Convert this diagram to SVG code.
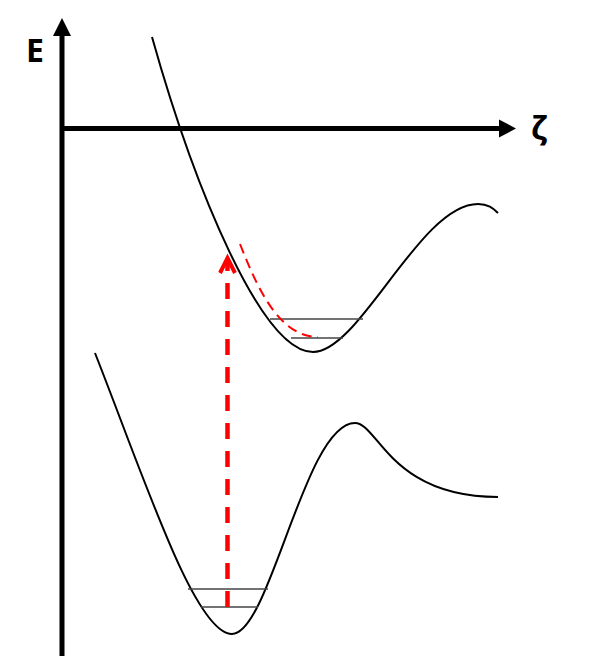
<svg xmlns="http://www.w3.org/2000/svg" width="616" height="656" viewBox="0 0 616 656">
<style>
.axis{stroke:#000;stroke-width:5;fill:none}
.head{fill:#000;stroke:none}
.pes{stroke:#000;stroke-width:2;fill:none}
.lvl{stroke:#444;stroke-width:1.3;fill:none}
.lbl{font-family:"Open Sans","Liberation Sans",sans-serif;font-weight:bold;font-size:32px;fill:#000}
.red{stroke:#ff0000;fill:none}
</style>
<rect width="616" height="656" fill="#fff"/>
<g id="axes">
<line class="axis" x1="62" y1="656" x2="62" y2="32"/>
<polygon class="head" points="62,18 53,36 71,36"/>
<line class="axis" x1="60" y1="128.5" x2="502" y2="128.5"/>
<polygon class="head" points="516,128.5 499,119.5 499,137.5"/>
<text class="lbl" x="26" y="62">E</text>
<text class="lbl" x="531" y="140">ζ</text>
</g>
<g id="excited-state">
<path class="pes" d="M152,37 C195,190 262,352 313,352 C360,352 420,204 478,204 C488,204 493,208 498,213"/>
<line class="lvl" x1="270" y1="319" x2="363" y2="319"/>
<line class="lvl" x1="291" y1="338" x2="343" y2="338"/>
</g>
<g id="ground-state">
<path class="pes" d="M95,353 C145,480 195,634 232,634 C270,634 305,423 355,423 C378,423 390,497 498,497"/>
<line class="lvl" x1="188" y1="589" x2="268" y2="589"/>
<line class="lvl" x1="201" y1="607" x2="258" y2="607"/>
</g>
<g id="connectors">
<path class="red" stroke-width="2" stroke-dasharray="10 6" d="M240,244 C258,290 280,337 318,337"/>
<line class="red" stroke-width="4.5" stroke-dasharray="16 12" x1="227.5" y1="607" x2="227.5" y2="260"/>
<polyline class="red" stroke-width="4" points="220,273 227.5,258 235,273"/>
</g>
</svg>
